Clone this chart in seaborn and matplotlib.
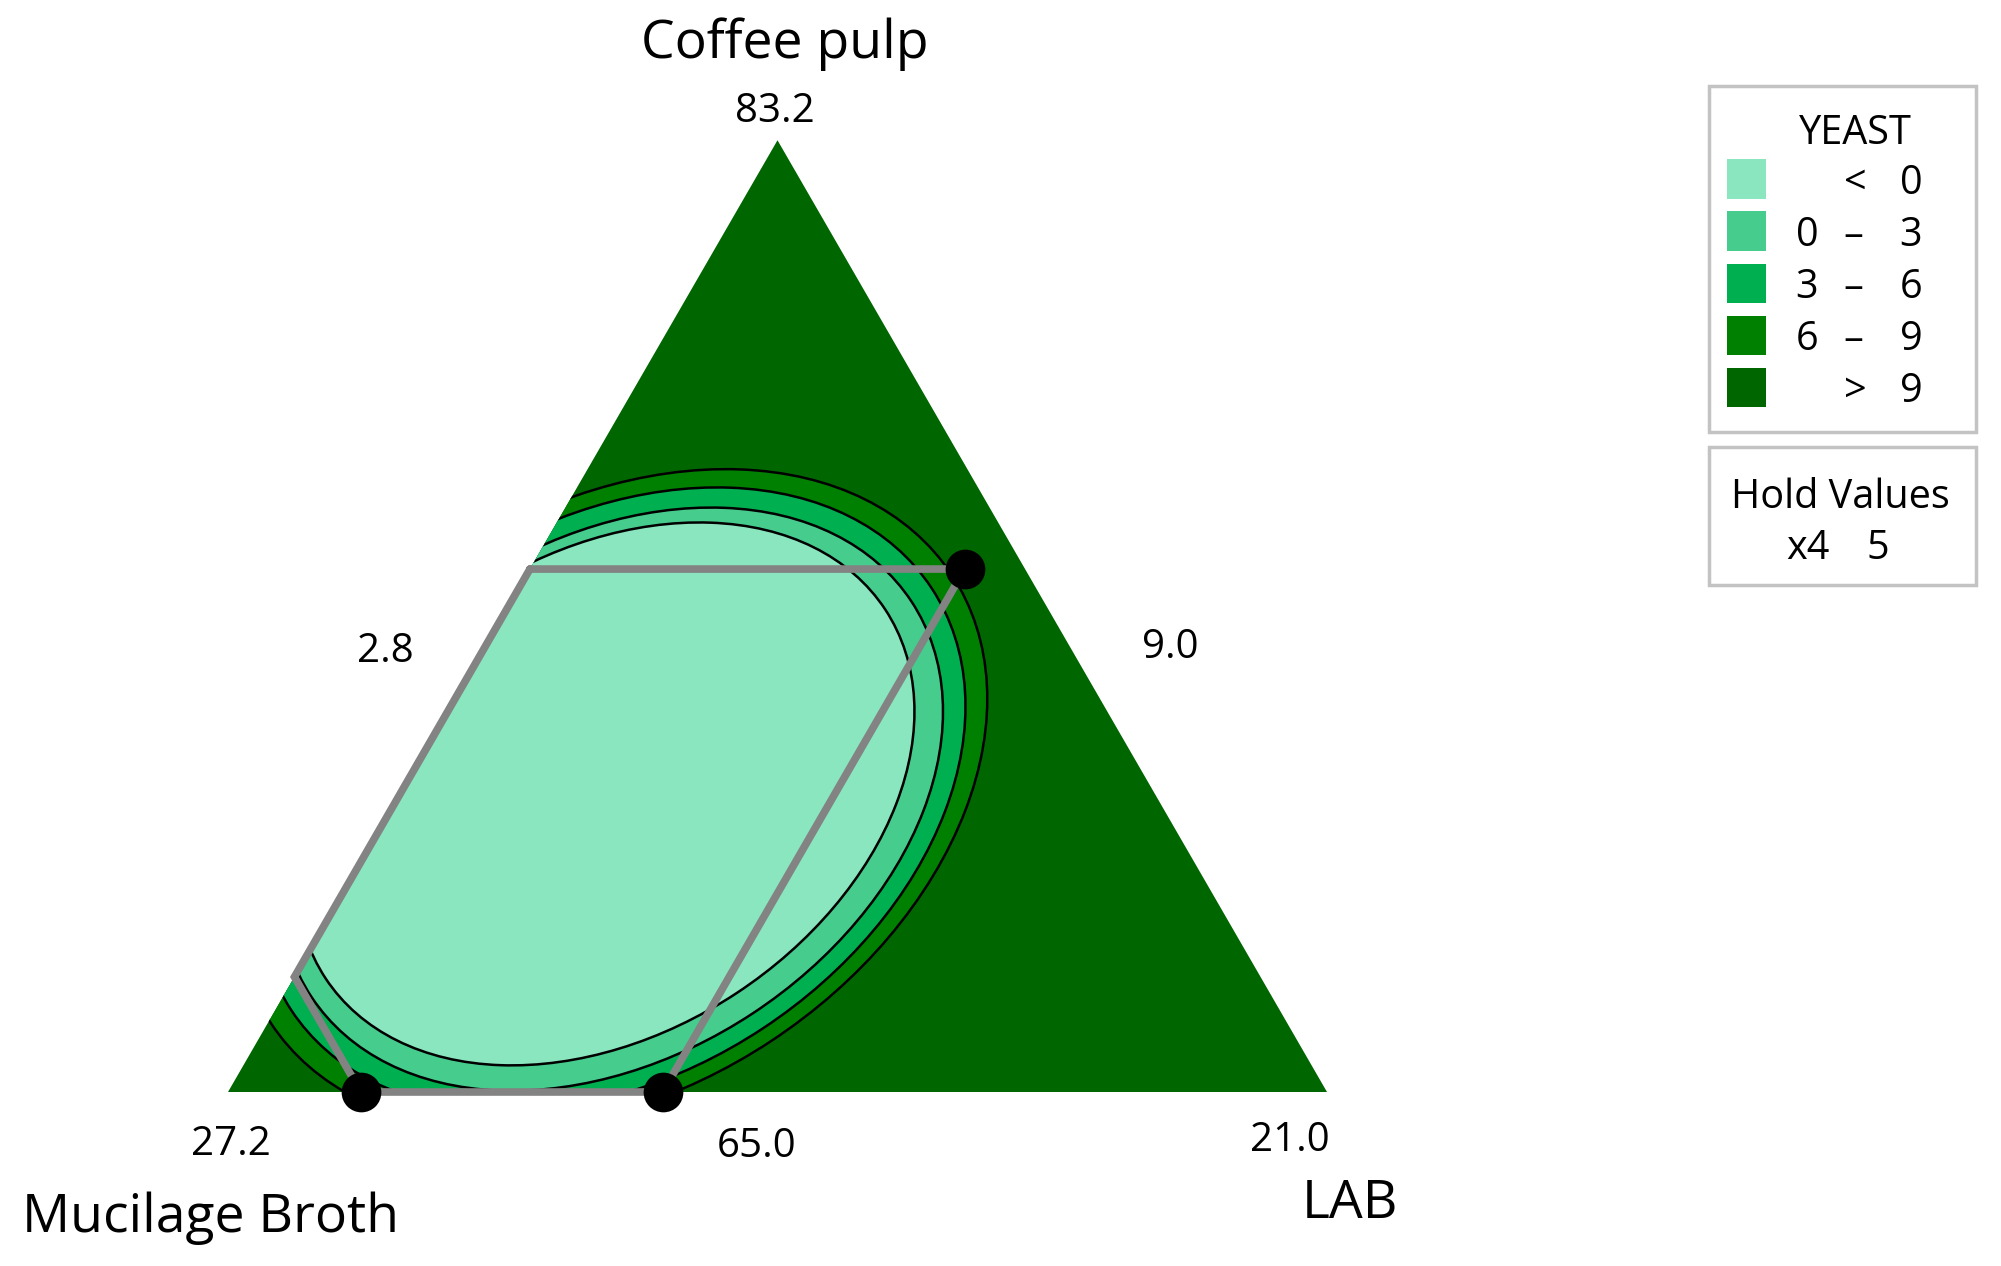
import numpy as np
import matplotlib
matplotlib.use("Agg")
import matplotlib.pyplot as plt
from matplotlib.patches import Ellipse, Polygon, Rectangle
import seaborn as sns

# mixture components (real amounts, x4 held at 5 -> total 95)
components = ["Coffee pulp", "Mucilage Broth", "LAB"]
comp_min = [65.0, 9.0, 2.8]
comp_max = [83.2, 27.2, 21.0]
hold_name = "x4"
hold_value = 5

# YEAST contour levels and band colours (<0, 0-3, 3-6, 6-9, >9)
levels = [0, 3, 6, 9]
band_colors = ["#89e6be", "#46cd8e", "#00b050", "#008000", "#006600"]

# contour outlines (ellipse per level, simplex units)
contour_coffee = [70.7, 70.6, 70.6, 70.6]
contour_lab = [6.2, 6.35, 6.35, 6.35]
contour_width = [11.1, 11.9, 12.7, 13.5]
contour_height = [7.9, 8.5, 9.1, 9.6]
contour_angle = [33.4, 33.4, 33.4, 33.4]

# constrained design region and design points
region_coffee = [75.0, 67.2, 65.0, 65.0, 75.0]
region_lab = [2.8, 2.8, 5.0, 10.0, 10.0]
point_coffee = [75.0, 65.0, 65.0]
point_lab = [10.0, 10.0, 5.0]

side = comp_max[0] - comp_min[0]
upp = side / 1099.0  # simplex units per pixel


def to_xy(coffee, lab):
    pc = np.asarray(coffee) - comp_min[0]
    pl = np.asarray(lab) - comp_min[2]
    return pl + 0.5 * pc, pc * np.sqrt(3) / 2


def pix(x, y):
    return (x - 228) * upp, (1092 - y) * upp


sns.set_theme(style="white")
plt.rcParams['font.family'] = ['Open Sans', 'DejaVu Sans']
plt.rcParams['text.color'] = 'black'

fig = plt.figure(figsize=(20.01, 12.66), dpi=100)
ax = fig.add_axes([0, 0, 1, 1])
ax.set_xlim(-228 * upp, (2001 - 228) * upp)
ax.set_ylim(-174 * upp, (1266 - 174) * upp)
ax.axis('off')

# simplex
tx, ty = to_xy([comp_min[0], comp_min[0], comp_max[0]],
               [comp_min[2], comp_max[2], comp_min[2]])
tri = Polygon(np.column_stack([tx, ty]), closed=True,
              facecolor=band_colors[-1], edgecolor='none', zorder=1)
ax.add_patch(tri)

for i in reversed(range(len(levels))):
    cx, cy = to_xy(contour_coffee[i], contour_lab[i])
    e = Ellipse((cx, cy), contour_width[i], contour_height[i],
                angle=contour_angle[i], facecolor=band_colors[i],
                edgecolor='black', lw=1.8, zorder=2)
    ax.add_patch(e)
    e.set_clip_path(tri)

rx, ry = to_xy(region_coffee + region_coffee[:1], region_lab + region_lab[:1])
ax.plot(rx, ry, color='#838383', lw=5.5, zorder=3, solid_joinstyle='miter')

px_, py_ = to_xy(point_coffee, point_lab)
sns.scatterplot(x=px_, y=py_, s=700, color='black', edgecolor='black',
                ax=ax, zorder=5, legend=False, clip_on=False)

# vertex / edge labels
num = dict(fontsize=29, ha='center', va='center')
ax.text(*pix(775, 112), f"{comp_max[0]:.1f}", **num)
ax.text(*pix(231, 1145), f"{comp_max[1]:.1f}", **num)
ax.text(*pix(1290, 1141), f"{comp_max[2]:.1f}", **num)
ax.text(*pix(757, 1147), f"{comp_min[0]:.1f}", **num)
ax.text(*pix(1170, 648), f"{comp_min[1]:.1f}", **num)
ax.text(*pix(385, 652), f"{comp_min[2]:.1f}", **num)

ttl = dict(fontsize=38.5, va='center')
ax.text(*pix(785, 44), components[0], ha='center', **ttl)
ax.text(*pix(22, 1218), components[1], ha='left', **ttl)
ax.text(*pix(1350, 1204), components[2], ha='center', **ttl)

# legend boxes
box = dict(facecolor='white', edgecolor='#c3c3c3', lw=2.5, zorder=4)
ax.add_patch(Rectangle(pix(1709, 432), 267 * upp, 346 * upp, **box))
ax.add_patch(Rectangle(pix(1709, 585), 267 * upp, 138 * upp, **box))

leg = dict(fontsize=28.5, ha='center', va='center', zorder=6)
ax.text(*pix(1855, 134), "YEAST", **leg)
rows_y = [179, 231, 283, 335, 387]
for k, yy in enumerate(rows_y):
    ax.add_patch(Rectangle(pix(1727, yy + 19.5), 39 * upp, 39 * upp,
                           facecolor=band_colors[k], edgecolor='none', zorder=5))
    ty_ = yy + 5
    if k == 0:
        ax.text(*pix(1855, ty_), "<", **leg)
        ax.text(*pix(1911, ty_), f"{levels[0]}", **leg)
    elif k == len(rows_y) - 1:
        ax.text(*pix(1855, ty_), ">", **leg)
        ax.text(*pix(1911, ty_), f"{levels[-1]}", **leg)
    else:
        ax.text(*pix(1807, ty_), f"{levels[k - 1]}", **leg)
        ax.text(*pix(1853, ty_), "–", **leg)
        ax.text(*pix(1911, ty_), f"{levels[k]}", **leg)

ax.text(*pix(1840, 498), "Hold Values", **leg)
ax.text(*pix(1808, 549), hold_name, **leg)
ax.text(*pix(1878, 549), f"{hold_value}", **leg)

fig.savefig("out.png", dpi=100)
